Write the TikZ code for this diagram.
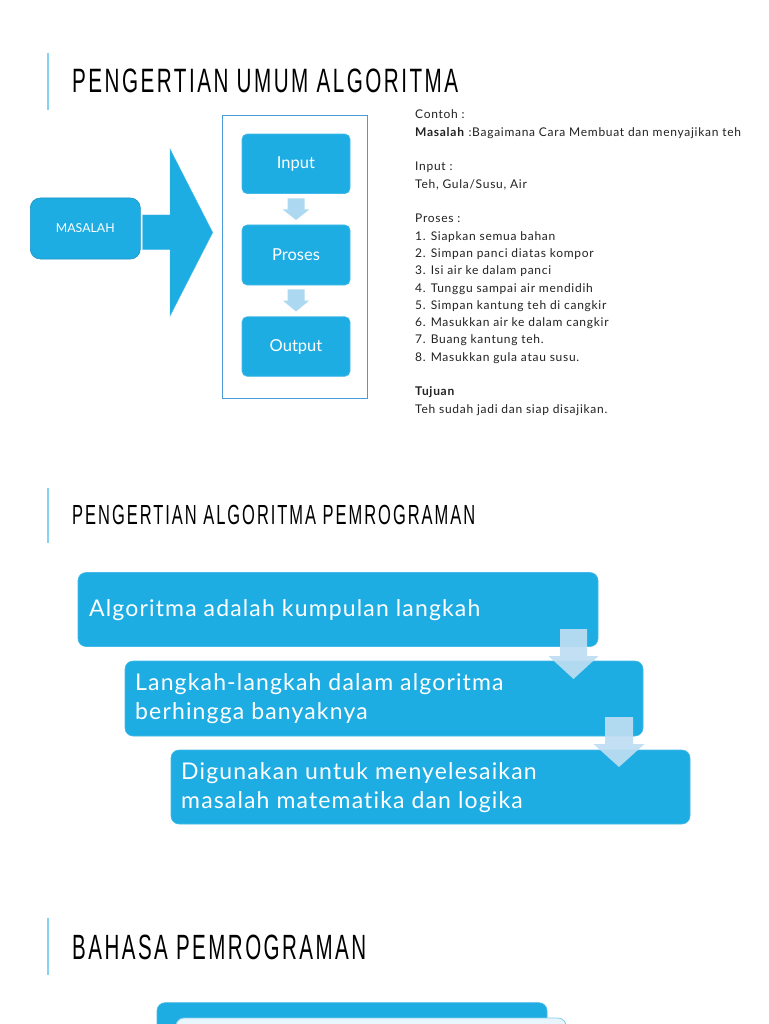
\documentclass[tikz,border=0pt]{standalone}
\usepackage{fontspec}
\setmainfont{Lato}
\newfontfamily\titlefont[LetterSpace=12]{Liberation Sans}
\newfontfamily\colfont[LetterSpace=6,Ligatures=NoCommon]{Lato}
\newfontfamily\boxfont[LetterSpace=5,Ligatures=NoCommon]{Lato}
\definecolor{mblue}{HTML}{1EADE3}
\definecolor{mbord}{HTML}{45BAE8}
\definecolor{dbord}{HTML}{1B95C8}
\definecolor{tline}{HTML}{86D2F0}
\definecolor{larrow}{HTML}{BEDDF2}
\definecolor{frame}{HTML}{4A9BD8}
\definecolor{lfill}{HTML}{E8F5FB}
\definecolor{lbord}{HTML}{84CDEE}
\definecolor{ink}{HTML}{222222}
\tikzset{
  bluebox/.style={draw=mbord, fill=mblue, line width=0.6pt, rounded corners=5pt, text=white, inner sep=0pt},
  bigbox/.style={draw=mbord, fill=mblue, line width=0.6pt, rounded corners=8pt, inner sep=0pt},
  boxtext/.style={anchor=base west, inner sep=0pt, text=white, font=\boxfont\fontsize{23}{26}\selectfont},
  coltext/.style={anchor=base west, inner sep=0pt, text=ink, font=\colfont\fontsize{12}{14}\selectfont},
  titletext/.style={anchor=base west, inner sep=0pt, text=black},
  titlebar/.style={draw=tline, line width=2pt},
  softarrow/.style={fill=larrow, fill opacity=0.92, draw=none},
}
\begin{document}
\begin{tikzpicture}[x=1pt,y=-1pt]
\useasboundingbox (0,0) rectangle (768,1024);
\fill[white] (0,0) rectangle (768,1024);
\clip (0,0) rectangle (768,1024);

% ---------- Section 1 ----------
\draw[titlebar] (48,52.7) -- (48,110);
\node[titletext] (t1) at (72,92.7) {\resizebox{386pt}{23.6pt}{\titlefont PENGERTIAN UMUM ALGORITMA}};

\node[bluebox, draw=dbord, rounded corners=10pt, minimum width=110pt, minimum height=61pt,
      font=\fontsize{12.3}{14}\selectfont] (masalah) at (85.3,228.5) {MASALAH};

\fill[mblue, draw=mbord, line width=0.4pt] (142.5,215) -- (170,215) -- (170,149) -- (212.7,232.5)
   -- (170,316) -- (170,249.5) -- (142.5,249.5) -- cycle;

\node[draw=frame, line width=0.7pt, fill=white, minimum width=145pt, minimum height=283pt, inner sep=0pt]
   (frame) at (294.5,256.5) {};

\node[bluebox, minimum width=108pt, minimum height=59.5pt, font=\fontsize{16.5}{18}\selectfont] (input) at (296,163.8) {Input};
\node[bluebox, minimum width=108pt, minimum height=60pt, font=\fontsize{16.5}{18}\selectfont] (proses) at (296,255) {Proses};
\node[bluebox, minimum width=108pt, minimum height=59.5pt, font=\fontsize{16.5}{18}\selectfont] (output) at (296,346.5) {Output};

\fill[softarrow, fill=larrow!85!mblue] (287.5,198.3) -- (304.5,198.3) -- (304.5,209.5) -- (309.3,209.5)
   -- (296,220) -- (282.7,209.5) -- (287.5,209.5) -- cycle;
\fill[softarrow, fill=larrow!85!mblue] (287.5,289.3) -- (304.5,289.3) -- (304.5,300.5) -- (309.3,300.5)
   -- (296,311.5) -- (282.7,300.5) -- (287.5,300.5) -- cycle;

% right column
\node[coltext] (c0) at (415,119) {Contoh :};
\node[coltext] (c1) at (415,136.3) {\textbf{Masalah} :Bagaimana Cara Membuat dan menyajikan teh};
\node[coltext] (c3) at (415,170.9) {Input :};
\node[coltext] (c4) at (415,188.2) {Teh, Gula/Susu, Air};
\node[coltext] (c6) at (415,222.8) {Proses :};
\node[coltext] (c7) at (415,240.1) {1. Siapkan semua bahan};
\node[coltext] (c8) at (415,257.4) {2. Simpan panci diatas kompor};
\node[coltext] (c9) at (415,274.7) {3. Isi air ke dalam panci};
\node[coltext] (c10) at (415,292) {4. Tunggu sampai air mendidih};
\node[coltext] (c11) at (415,309.3) {5. Simpan kantung teh di cangkir};
\node[coltext] (c12) at (415,326.6) {6. Masukkan air ke dalam cangkir};
\node[coltext] (c13) at (415,343.9) {7. Buang kantung teh.};
\node[coltext] (c14) at (415,361.2) {8. Masukkan gula atau susu.};
\node[coltext] (c16) at (415,395.8) {\textbf{Tujuan}};
\node[coltext] (c17) at (415,413.1) {Teh sudah jadi dan siap disajikan.};

% ---------- Section 2 ----------
\draw[titlebar] (48,488) -- (48,543);
\node[titletext] (t2) at (72,524) {\resizebox{403pt}{19.3pt}{\titlefont PENGERTIAN ALGORITMA PEMROGRAMAN}};

\node[bigbox, minimum width=520pt, minimum height=74pt] (b1) at (338,609.5) {};
\node[bigbox, minimum width=518pt, minimum height=75pt] (b2) at (384,698.5) {};
\node[bigbox, minimum width=519pt, minimum height=74pt] (b3) at (430.5,787) {};

\node[boxtext] (b1t) at (89,616.7) {Algoritma adalah kumpulan langkah};
\node[boxtext] (b2t1) at (135,690.7) {Langkah-langkah dalam algoritma};
\node[boxtext] (b2t2) at (135,719) {berhingga banyaknya};
\node[boxtext] (b3t1) at (181,779) {Digunakan untuk menyelesaikan};
\node[boxtext] (b3t2) at (181,808) {masalah matematika dan logika};

\fill[softarrow] (560,629) -- (587,629) -- (587,656) -- (598.5,656) -- (573.5,679)
   -- (548.5,656) -- (560,656) -- cycle;
\fill[softarrow] (605,717) -- (633,717) -- (633,744) -- (644.5,744) -- (619,767)
   -- (593.5,744) -- (605,744) -- cycle;

% ---------- Section 3 ----------
\draw[titlebar] (48,918) -- (48,975);
\node[titletext] (t3) at (72,959.5) {\resizebox{294pt}{24.5pt}{\titlefont BAHASA PEMROGRAMAN}};

\draw[fill=mblue, draw=mbord, line width=0.6pt, rounded corners=8pt] (157,1002.7) rectangle (547,1060);
\draw[fill=lfill, draw=lbord, line width=0.8pt, rounded corners=8pt] (176,1018) rectangle (566,1070);
\end{tikzpicture}
\end{document}
